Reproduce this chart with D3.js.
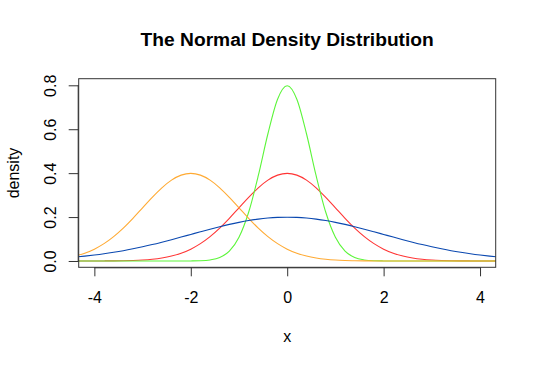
<!DOCTYPE html>
<html><head><meta charset="utf-8">
<script src="https://cdn.jsdelivr.net/npm/d3@7"></script>
<style>body{margin:0;background:#fff}svg{display:block}text{font-family:"Liberation Sans",Arial,Helvetica,sans-serif;fill:#000}</style>
</head><body>
<svg id="c" width="536" height="366"></svg>
<script>
// x grid (step 0.2 from -4.4 to 4.4)
const xs = [-4.4,-4.2,-4.0,-3.8,-3.6,-3.4,-3.2,-3.0,-2.8,-2.6,-2.4,-2.2,-2.0,-1.8,-1.6,-1.4,-1.2,-1.0,-0.8,-0.6,-0.4,-0.2,0,
  0.2,0.4,0.6,0.8,1.0,1.2,1.4,1.6,1.8,2.0,2.2,2.4,2.6,2.8,3.0,3.2,3.4,3.6,3.8,4.0,4.2,4.4];
// density values
const redVals = [0.0000,0.0001,0.0001,0.0003,0.0006,0.0012,0.0024,0.0044,0.0079,0.0136,0.0224,0.0355,0.0540,0.0790,0.1109,0.1497,0.1942,0.2420,0.2897,0.3332,0.3683,0.3910,0.3989,
  0.3910,0.3683,0.3332,0.2897,0.2420,0.1942,0.1497,0.1109,0.0790,0.0540,0.0355,0.0224,0.0136,0.0079,0.0044,0.0024,0.0012,0.0006,0.0003,0.0001,0.0001,0.0000];
const greenVals = [0,0,0,0,0,0,0,0,0,0,0,0.0000,0.0003,0.0012,0.0048,0.0158,0.0448,0.1080,0.2218,0.3884,0.5794,0.7366,0.7979,
  0.7366,0.5794,0.3884,0.2218,0.1080,0.0448,0.0158,0.0048,0.0012,0.0003,0.0000,0,0,0,0,0,0,0,0,0,0,0];
const blueVals = [0.0178,0.0220,0.0270,0.0328,0.0395,0.0470,0.0555,0.0648,0.0748,0.0857,0.0971,0.1089,0.1210,0.1331,0.1449,0.1561,0.1666,0.1760,0.1842,0.1907,0.1955,0.1985,0.1995,
  0.1985,0.1955,0.1907,0.1842,0.1760,0.1666,0.1561,0.1449,0.1331,0.1210,0.1089,0.0971,0.0857,0.0748,0.0648,0.0555,0.0470,0.0395,0.0328,0.0270,0.0220,0.0178];
const orangeVals = [0.0224,0.0355,0.0540,0.0790,0.1109,0.1497,0.1942,0.2420,0.2897,0.3332,0.3683,0.3910,0.3989,0.3910,0.3683,0.3332,0.2897,0.2420,0.1942,0.1497,0.1109,0.0790,0.0540,
  0.0355,0.0224,0.0136,0.0079,0.0044,0.0024,0.0012,0.0006,0.0003,0.0001,0.0001,0,0,0,0,0,0,0,0,0,0,0];
const xTicks = [-4,-2,0,2,4];
const xTickLabels = ["-4","-2","0","2","4"];
const yTicks = [0.0,0.2,0.4,0.6,0.8];
const yTickLabels = ["0.0","0.2","0.4","0.6","0.8"];
const title = "The Normal Density Distribution";
const xLabel = "x", yLabel = "density";

const series = [
  {vals: redVals, color: "#ff3535"},
  {vals: greenVals, color: "#5cf53a"},
  {vals: orangeVals, color: "#ffaa33"},
  {vals: blueVals, color: "#0a48b0"}
];

const L = 78.7, R = 495.7, T = 78.7, B = 267.3;
const svg = d3.select("#c");
const x = d3.scaleLinear().domain([-4.325, 4.325]).range([L, R]);
const y = d3.scaleLinear().domain([-0.0287, 0.8301]).range([B, T]);

svg.append("defs").append("clipPath").attr("id","clip")
  .append("rect").attr("x",L).attr("y",T).attr("width",R-L).attr("height",B-T);

const line = d3.line().x((d,i)=>x(xs[i])).y(d=>y(d)).curve(d3.curveMonotoneX);
const g = svg.append("g").attr("clip-path","url(#clip)");
series.forEach(s => {
  g.append("path").datum(s.vals).attr("d", line)
    .attr("fill","none").attr("stroke", s.color).attr("stroke-width", 1.1);
});

// box
svg.append("rect").attr("x",L).attr("y",T).attr("width",R-L).attr("height",B-T)
  .attr("fill","none").attr("stroke","#333").attr("stroke-width",1);

// x axis
const xa = svg.append("g").attr("transform",`translate(0,${B})`)
  .call(d3.axisBottom(x).tickValues(xTicks).tickSize(9).tickPadding(0)
    .tickFormat((d,i)=>xTickLabels[i]));
xa.select(".domain").attr("d", `M${x(-4)},0.5H${x(4)}`).attr("stroke","#333");
xa.selectAll(".tick line").attr("stroke","#333");
xa.selectAll("text").attr("font-size",16).attr("dy",null).attr("y",36).attr("font-family",null);

// y axis
const ya = svg.append("g").attr("transform",`translate(${L},0)`)
  .call(d3.axisLeft(y).tickValues(yTicks).tickSize(10).tickFormat((d,i)=>yTickLabels[i]));
ya.select(".domain").attr("d", `M-0.5,${y(0)}V${y(0.8)}`).attr("stroke","#333");
ya.selectAll(".tick line").attr("stroke","#333");
ya.selectAll(".tick text").attr("font-size",16).attr("font-family",null)
  .attr("x",null).attr("dy",null).attr("text-anchor","middle")
  .attr("transform","translate(-23,0) rotate(-90)");

svg.append("text").attr("x",(L+R)/2).attr("y",46).attr("text-anchor","middle")
  .attr("font-size",19.2).attr("font-weight","bold").text(title);
svg.append("text").attr("x",(L+R)/2).attr("y",342).attr("text-anchor","middle")
  .attr("font-size",16).text(xLabel);
svg.append("text").attr("transform",`translate(19,${(T+B)/2}) rotate(-90)`).attr("text-anchor","middle")
  .attr("font-size",16).text(yLabel);
</script>
</body></html>
